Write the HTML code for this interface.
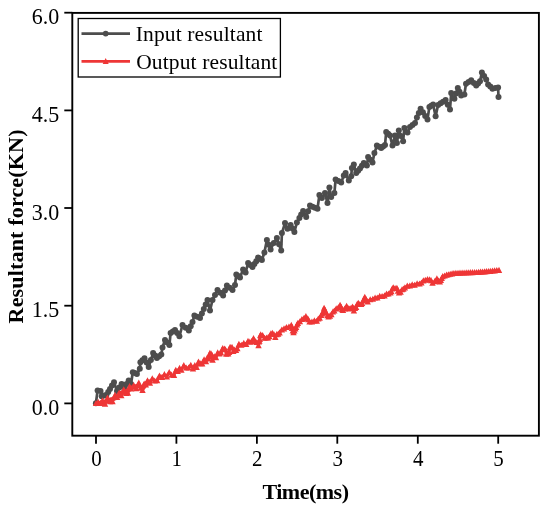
<!DOCTYPE html>
<html><head><meta charset="utf-8"><title>Resultant force</title>
<style>html,body{margin:0;padding:0;background:#fff}body{width:550px;height:512px;position:relative;overflow:hidden}</style>
</head><body>
<svg width="550" height="512" viewBox="0 0 550 512" style="position:absolute;left:0;top:0">
<polyline points="95.9,403.3 97.6,390.4 100.5,391.0 101.7,396.3 106.4,395.0 110.0,389.0 114.0,382.2 117.0,391.0 121.6,384.0 124.5,387.5 128.7,380.5 131.0,384.0 132.8,372.3 136.9,374.0 139.8,368.8 140.4,362.3 144.5,358.2 148.7,366.9 153.1,353.1 156.9,358.1 161.3,354.4 162.5,347.5 165.0,340.0 169.4,345.0 170.6,333.1 175.0,330.0 179.4,336.3 182.5,325.0 188.8,330.6 192.5,321.9 194.4,315.6 200.0,318.0 203.8,309.0 207.5,300.0 210.0,310.6 212.5,300.0 217.5,290.0 223.1,295.6 226.9,285.6 232.5,290.0 235.0,285.0 236.3,274.4 240.0,277.5 243.1,269.4 245.6,272.5 248.1,263.1 252.5,266.9 256.3,261.3 258.1,257.5 261.9,260.0 264.4,252.5 266.9,240.0 270.6,249.4 273.8,243.0 276.9,238.1 281.2,250.6 281.9,233.1 285.0,223.1 287.5,228.8 290.6,225.0 294.4,231.9 296.9,222.5 299.4,218.1 303.1,211.0 306.2,216.9 310.0,205.6 317.5,208.8 319.4,195.0 321.9,198.1 325.0,193.1 327.5,203.1 329.4,187.5 331.2,196.9 334.4,193.1 335.6,179.4 341.2,182.5 343.8,175.6 345.6,173.1 348.8,180.6 351.2,176.2 351.9,168.1 353.8,164.4 356.2,173.1 360.0,168.4 363.8,163.1 366.9,165.6 368.1,156.9 372.5,162.5 374.4,153.1 376.9,145.6 381.2,148.1 385.0,145.0 386.2,131.9 390.0,135.6 392.5,145.6 395.0,135.6 396.9,143.1 398.8,130.6 403.1,141.2 404.4,128.1 407.5,132.5 410.0,126.9 415.0,123.1 416.9,117.5 420.6,108.8 427.5,119.4 429.4,106.9 433.1,104.4 435.6,116.2 438.1,105.0 445.6,100.0 450.0,109.4 451.2,93.1 454.4,98.8 457.8,88.1 461.2,95.6 464.4,94.4 466.0,83.8 471.2,80.3 476.2,85.6 480.0,81.2 481.9,72.5 486.2,79.4 488.1,84.4 492.5,88.8 498.1,87.5 498.5,96.9" fill="none" stroke="#4d4d4d" stroke-width="2.7" stroke-linejoin="round"/>
<g fill="#4d4d4d">
<circle cx="95.9" cy="403.3" r="3"/>
<circle cx="97.6" cy="390.4" r="3"/>
<circle cx="100.5" cy="391.0" r="3"/>
<circle cx="101.7" cy="396.3" r="3"/>
<circle cx="104.1" cy="395.6" r="3"/>
<circle cx="106.4" cy="395.0" r="3"/>
<circle cx="108.2" cy="392.0" r="3"/>
<circle cx="110.0" cy="389.0" r="3"/>
<circle cx="112.0" cy="385.6" r="3"/>
<circle cx="114.0" cy="382.2" r="3"/>
<circle cx="117.0" cy="391.0" r="3"/>
<circle cx="119.3" cy="387.5" r="3"/>
<circle cx="121.6" cy="384.0" r="3"/>
<circle cx="124.5" cy="387.5" r="3"/>
<circle cx="126.6" cy="384.0" r="3"/>
<circle cx="128.7" cy="380.5" r="3"/>
<circle cx="131.0" cy="384.0" r="3"/>
<circle cx="132.8" cy="372.3" r="3"/>
<circle cx="134.9" cy="373.1" r="3"/>
<circle cx="136.9" cy="374.0" r="3"/>
<circle cx="139.8" cy="368.8" r="3"/>
<circle cx="140.4" cy="362.3" r="3"/>
<circle cx="142.4" cy="360.2" r="3"/>
<circle cx="144.5" cy="358.2" r="3"/>
<circle cx="146.6" cy="362.5" r="3"/>
<circle cx="148.7" cy="366.9" r="3"/>
<circle cx="150.9" cy="360.0" r="3"/>
<circle cx="153.1" cy="353.1" r="3"/>
<circle cx="155.0" cy="355.6" r="3"/>
<circle cx="156.9" cy="358.1" r="3"/>
<circle cx="159.1" cy="356.2" r="3"/>
<circle cx="161.3" cy="354.4" r="3"/>
<circle cx="162.5" cy="347.5" r="3"/>
<circle cx="165.0" cy="340.0" r="3"/>
<circle cx="167.2" cy="342.5" r="3"/>
<circle cx="169.4" cy="345.0" r="3"/>
<circle cx="170.6" cy="333.1" r="3"/>
<circle cx="172.8" cy="331.6" r="3"/>
<circle cx="175.0" cy="330.0" r="3"/>
<circle cx="177.2" cy="333.1" r="3"/>
<circle cx="179.4" cy="336.3" r="3"/>
<circle cx="182.5" cy="325.0" r="3"/>
<circle cx="185.7" cy="327.8" r="3"/>
<circle cx="188.8" cy="330.6" r="3"/>
<circle cx="190.7" cy="326.2" r="3"/>
<circle cx="192.5" cy="321.9" r="3"/>
<circle cx="194.4" cy="315.6" r="3"/>
<circle cx="197.2" cy="316.8" r="3"/>
<circle cx="200.0" cy="318.0" r="3"/>
<circle cx="201.9" cy="313.5" r="3"/>
<circle cx="203.8" cy="309.0" r="3"/>
<circle cx="205.7" cy="304.5" r="3"/>
<circle cx="207.5" cy="300.0" r="3"/>
<circle cx="210.0" cy="310.6" r="3"/>
<circle cx="212.5" cy="300.0" r="3"/>
<circle cx="215.0" cy="295.0" r="3"/>
<circle cx="217.5" cy="290.0" r="3"/>
<circle cx="220.3" cy="292.8" r="3"/>
<circle cx="223.1" cy="295.6" r="3"/>
<circle cx="225.0" cy="290.6" r="3"/>
<circle cx="226.9" cy="285.6" r="3"/>
<circle cx="229.7" cy="287.8" r="3"/>
<circle cx="232.5" cy="290.0" r="3"/>
<circle cx="235.0" cy="285.0" r="3"/>
<circle cx="236.3" cy="274.4" r="3"/>
<circle cx="238.2" cy="275.9" r="3"/>
<circle cx="240.0" cy="277.5" r="3"/>
<circle cx="243.1" cy="269.4" r="3"/>
<circle cx="245.6" cy="272.5" r="3"/>
<circle cx="248.1" cy="263.1" r="3"/>
<circle cx="250.3" cy="265.0" r="3"/>
<circle cx="252.5" cy="266.9" r="3"/>
<circle cx="254.4" cy="264.1" r="3"/>
<circle cx="256.3" cy="261.3" r="3"/>
<circle cx="258.1" cy="257.5" r="3"/>
<circle cx="260.0" cy="258.8" r="3"/>
<circle cx="261.9" cy="260.0" r="3"/>
<circle cx="264.4" cy="252.5" r="3"/>
<circle cx="266.9" cy="240.0" r="3"/>
<circle cx="268.8" cy="244.7" r="3"/>
<circle cx="270.6" cy="249.4" r="3"/>
<circle cx="273.8" cy="243.0" r="3"/>
<circle cx="276.9" cy="238.1" r="3"/>
<circle cx="279.1" cy="244.3" r="3"/>
<circle cx="281.2" cy="250.6" r="3"/>
<circle cx="281.9" cy="233.1" r="3"/>
<circle cx="285.0" cy="223.1" r="3"/>
<circle cx="287.5" cy="228.8" r="3"/>
<circle cx="290.6" cy="225.0" r="3"/>
<circle cx="292.5" cy="228.4" r="3"/>
<circle cx="294.4" cy="231.9" r="3"/>
<circle cx="296.9" cy="222.5" r="3"/>
<circle cx="299.4" cy="218.1" r="3"/>
<circle cx="301.2" cy="214.6" r="3"/>
<circle cx="303.1" cy="211.0" r="3"/>
<circle cx="306.2" cy="216.9" r="3"/>
<circle cx="308.1" cy="211.2" r="3"/>
<circle cx="310.0" cy="205.6" r="3"/>
<circle cx="312.5" cy="206.7" r="3"/>
<circle cx="315.0" cy="207.7" r="3"/>
<circle cx="317.5" cy="208.8" r="3"/>
<circle cx="319.4" cy="195.0" r="3"/>
<circle cx="321.9" cy="198.1" r="3"/>
<circle cx="325.0" cy="193.1" r="3"/>
<circle cx="327.5" cy="203.1" r="3"/>
<circle cx="329.4" cy="187.5" r="3"/>
<circle cx="331.2" cy="196.9" r="3"/>
<circle cx="334.4" cy="193.1" r="3"/>
<circle cx="335.6" cy="179.4" r="3"/>
<circle cx="338.4" cy="180.9" r="3"/>
<circle cx="341.2" cy="182.5" r="3"/>
<circle cx="343.8" cy="175.6" r="3"/>
<circle cx="345.6" cy="173.1" r="3"/>
<circle cx="348.8" cy="180.6" r="3"/>
<circle cx="351.2" cy="176.2" r="3"/>
<circle cx="351.9" cy="168.1" r="3"/>
<circle cx="353.8" cy="164.4" r="3"/>
<circle cx="356.2" cy="173.1" r="3"/>
<circle cx="358.1" cy="170.8" r="3"/>
<circle cx="360.0" cy="168.4" r="3"/>
<circle cx="361.9" cy="165.8" r="3"/>
<circle cx="363.8" cy="163.1" r="3"/>
<circle cx="366.9" cy="165.6" r="3"/>
<circle cx="368.1" cy="156.9" r="3"/>
<circle cx="370.3" cy="159.7" r="3"/>
<circle cx="372.5" cy="162.5" r="3"/>
<circle cx="374.4" cy="153.1" r="3"/>
<circle cx="376.9" cy="145.6" r="3"/>
<circle cx="379.1" cy="146.8" r="3"/>
<circle cx="381.2" cy="148.1" r="3"/>
<circle cx="383.1" cy="146.6" r="3"/>
<circle cx="385.0" cy="145.0" r="3"/>
<circle cx="386.2" cy="131.9" r="3"/>
<circle cx="388.1" cy="133.8" r="3"/>
<circle cx="390.0" cy="135.6" r="3"/>
<circle cx="392.5" cy="145.6" r="3"/>
<circle cx="395.0" cy="135.6" r="3"/>
<circle cx="396.9" cy="143.1" r="3"/>
<circle cx="398.8" cy="130.6" r="3"/>
<circle cx="400.9" cy="135.9" r="3"/>
<circle cx="403.1" cy="141.2" r="3"/>
<circle cx="404.4" cy="128.1" r="3"/>
<circle cx="407.5" cy="132.5" r="3"/>
<circle cx="410.0" cy="126.9" r="3"/>
<circle cx="412.5" cy="125.0" r="3"/>
<circle cx="415.0" cy="123.1" r="3"/>
<circle cx="416.9" cy="117.5" r="3"/>
<circle cx="418.8" cy="113.1" r="3"/>
<circle cx="420.6" cy="108.8" r="3"/>
<circle cx="422.9" cy="112.3" r="3"/>
<circle cx="425.2" cy="115.9" r="3"/>
<circle cx="427.5" cy="119.4" r="3"/>
<circle cx="429.4" cy="106.9" r="3"/>
<circle cx="431.2" cy="105.7" r="3"/>
<circle cx="433.1" cy="104.4" r="3"/>
<circle cx="435.6" cy="116.2" r="3"/>
<circle cx="438.1" cy="105.0" r="3"/>
<circle cx="440.6" cy="103.3" r="3"/>
<circle cx="443.1" cy="101.7" r="3"/>
<circle cx="445.6" cy="100.0" r="3"/>
<circle cx="447.8" cy="104.7" r="3"/>
<circle cx="450.0" cy="109.4" r="3"/>
<circle cx="451.2" cy="93.1" r="3"/>
<circle cx="454.4" cy="98.8" r="3"/>
<circle cx="456.1" cy="93.4" r="3"/>
<circle cx="457.8" cy="88.1" r="3"/>
<circle cx="459.5" cy="91.8" r="3"/>
<circle cx="461.2" cy="95.6" r="3"/>
<circle cx="464.4" cy="94.4" r="3"/>
<circle cx="466.0" cy="83.8" r="3"/>
<circle cx="468.6" cy="82.0" r="3"/>
<circle cx="471.2" cy="80.3" r="3"/>
<circle cx="473.8" cy="82.9" r="3"/>
<circle cx="476.2" cy="85.6" r="3"/>
<circle cx="478.1" cy="83.4" r="3"/>
<circle cx="480.0" cy="81.2" r="3"/>
<circle cx="481.9" cy="72.5" r="3"/>
<circle cx="484.1" cy="76.0" r="3"/>
<circle cx="486.2" cy="79.4" r="3"/>
<circle cx="488.1" cy="84.4" r="3"/>
<circle cx="490.3" cy="86.6" r="3"/>
<circle cx="492.5" cy="88.8" r="3"/>
<circle cx="495.3" cy="88.1" r="3"/>
<circle cx="498.1" cy="87.5" r="3"/>
<circle cx="498.5" cy="96.9" r="3"/>
</g>
<polyline points="100.3,403.1 102.5,402.5 105.0,401.7 107.5,400.8 110.0,400.0 112.5,399.1 115.0,398.1 117.1,396.5 119.2,394.8 121.2,393.1 123.8,392.5 126.2,391.9 127.9,390.6 129.6,389.4 131.2,388.1 133.8,387.3 136.2,386.5 138.8,385.6 140.6,387.0 142.5,388.4 144.2,386.4 145.8,384.4 147.5,382.4 149.9,381.6" fill="none" stroke="#ee3636" stroke-width="4.6" stroke-linejoin="round" stroke-linecap="round"/>
<polyline points="96.0,403.4 98.2,402.2 100.3,403.2 102.5,400.6 105.0,404.1 107.5,397.9 110.0,401.5 112.5,401.5 115.0,395.2 117.1,397.2 119.2,392.8 121.2,395.6 123.8,389.6 126.2,393.4 127.9,393.1 129.6,386.5 131.2,388.8 133.8,385.4 136.2,388.6 138.8,383.0 140.6,388.1 142.5,390.2 144.2,383.9 145.8,384.7 147.5,380.7 149.9,383.1 152.3,378.6 154.7,380.8 157.1,380.5 159.5,375.8 161.9,377.4 164.4,374.5 166.8,376.7 169.2,372.4 171.6,375.0 174.0,375.2 175.8,370.1 177.7,371.4 179.6,368.2 181.4,370.1 183.8,365.5 186.2,367.9 188.6,367.9 190.8,365.2 193.0,368.8 194.8,365.5 196.7,367.2 198.5,361.9 200.3,363.6 202.2,363.7 204.1,359.6 206.0,361.6 207.3,357.8 208.6,358.7 209.9,353.2 211.2,354.0 211.7,356.8 212.1,355.5 212.6,360.0 214.3,356.6 216.0,357.6 217.7,352.7 219.4,353.8 221.1,352.9 222.7,348.3 224.4,348.9 225.4,349.6 226.3,354.1 227.3,353.4 228.2,353.8 229.1,352.2 230.0,347.4 230.9,347.3 232.1,347.5 233.3,351.2 234.5,350.0 236.0,350.2 237.4,348.6 238.9,344.2 241.3,345.1 243.8,343.2 246.2,344.3 248.0,341.2 249.8,342.0 251.7,341.5 253.5,338.5 255.2,341.6 256.8,342.3 258.5,345.5 258.9,341.7 259.4,341.1 259.8,339.4 260.3,335.6 260.7,334.7 262.6,335.3 264.6,338.1 266.5,337.9 268.0,337.7 269.4,336.5 270.9,333.6 272.4,333.1 273.9,334.3 275.3,337.2 276.7,334.5 278.2,334.0 279.6,332.7 281.8,329.8 284.0,328.7 286.4,327.3 288.9,326.9 291.3,325.2 292.0,328.2 292.8,330.7 293.5,332.5 294.4,330.9 295.3,328.7 296.1,327.2 297.0,324.7 297.9,323.2 299.9,321.6 301.9,319.4 303.9,318.4 305.9,316.3 307.1,318.8 308.3,319.5 309.5,321.9 311.9,321.9 314.4,320.7 316.8,321.1 318.3,318.9 319.7,318.0 321.2,315.3 322.2,313.8 323.1,311.5 324.1,308.1 325.2,311.0 326.3,312.7 327.4,315.6 328.5,316.8 329.9,316.0 331.4,314.5 332.9,311.9 334.3,310.9 336.2,308.7 338.2,307.8 340.1,305.1 341.1,307.6 342.0,309.5 343.0,310.2 344.8,308.8 346.6,306.1 348.1,308.4 349.5,308.8 351.0,308.2 352.5,306.9 353.2,308.1 353.9,310.9 355.0,308.4 356.1,307.2 357.2,304.2 358.3,303.1 359.8,304.3 361.2,304.4 362.1,303.3 363.0,300.9 363.9,299.9 364.8,297.1 366.2,299.8 367.7,301.8 370.2,299.6 372.8,299.1 375.1,297.9 377.3,297.9 379.7,296.2 382.1,296.3 384.5,295.7 386.5,294.0 388.4,293.9 390.4,292.7 391.4,291.6 392.3,288.7 393.3,287.6 395.1,288.4 396.9,288.1 398.0,291.0 399.1,292.7 400.6,292.1 402.0,289.6 403.4,289.0 404.9,287.7 407.3,286.0 409.8,285.9 412.2,284.7 414.6,285.1 417.1,283.6 419.5,283.9 421.4,282.9 423.4,280.7 425.3,280.1 427.5,279.3 429.6,279.7 431.1,280.5 432.5,283.1 434.7,281.5 436.9,278.7 438.4,280.9 439.8,281.8 440.8,280.2 441.7,278.3 442.7,276.5 444.6,275.8 446.6,275.0 448.4,274.6 450.2,274.1 452.1,273.7 453.9,273.3 455.9,273.2 458.0,273.1 460.0,273.0 462.1,272.9 464.1,272.8 466.2,272.7 468.2,272.6 470.3,272.5 472.4,272.5 474.5,272.4 476.5,272.3 478.6,272.2 480.6,272.0 482.5,271.9 484.5,271.7 486.4,271.5 488.4,271.4 490.3,271.2 492.5,270.9 494.6,270.7 496.8,270.4 499.0,270.2" fill="none" stroke="#ee3636" stroke-width="3" stroke-linejoin="round"/>
<g fill="#ee3636">
<path d="M92.8 406.1L99.2 406.1L96.0 400.0Z"/>
<path d="M95.0 404.9L101.4 404.9L98.2 398.8Z"/>
<path d="M97.1 405.9L103.5 405.9L100.3 399.8Z"/>
<path d="M99.3 403.3L105.7 403.3L102.5 397.2Z"/>
<path d="M101.8 406.8L108.2 406.8L105.0 400.7Z"/>
<path d="M104.3 400.6L110.7 400.6L107.5 394.5Z"/>
<path d="M106.8 404.2L113.2 404.2L110.0 398.1Z"/>
<path d="M109.3 404.2L115.7 404.2L112.5 398.1Z"/>
<path d="M111.8 397.9L118.2 397.9L115.0 391.8Z"/>
<path d="M113.9 399.9L120.3 399.9L117.1 393.8Z"/>
<path d="M116.0 395.5L122.4 395.5L119.2 389.4Z"/>
<path d="M118.0 398.3L124.5 398.3L121.2 392.2Z"/>
<path d="M120.5 392.3L127.0 392.3L123.8 386.2Z"/>
<path d="M123.0 396.1L129.4 396.1L126.2 390.0Z"/>
<path d="M124.7 395.8L131.1 395.8L127.9 389.7Z"/>
<path d="M126.4 389.2L132.8 389.2L129.6 383.1Z"/>
<path d="M128.1 391.5L134.4 391.5L131.2 385.4Z"/>
<path d="M130.6 388.1L136.9 388.1L133.8 382.0Z"/>
<path d="M133.1 391.3L139.4 391.3L136.2 385.2Z"/>
<path d="M135.6 385.7L141.9 385.7L138.8 379.6Z"/>
<path d="M137.4 390.8L143.8 390.8L140.6 384.7Z"/>
<path d="M139.3 392.9L145.7 392.9L142.5 386.8Z"/>
<path d="M141.0 386.6L147.4 386.6L144.2 380.5Z"/>
<path d="M142.6 387.4L149.0 387.4L145.8 381.3Z"/>
<path d="M144.3 383.4L150.7 383.4L147.5 377.3Z"/>
<path d="M146.7 385.8L153.1 385.8L149.9 379.7Z"/>
<path d="M149.1 381.3L155.5 381.3L152.3 375.2Z"/>
<path d="M151.5 383.5L157.9 383.5L154.7 377.4Z"/>
<path d="M153.9 383.2L160.3 383.2L157.1 377.1Z"/>
<path d="M156.3 378.5L162.7 378.5L159.5 372.4Z"/>
<path d="M158.7 380.1L165.1 380.1L161.9 374.0Z"/>
<path d="M161.2 377.2L167.6 377.2L164.4 371.1Z"/>
<path d="M163.6 379.4L170.0 379.4L166.8 373.3Z"/>
<path d="M166.0 375.1L172.4 375.1L169.2 369.0Z"/>
<path d="M168.4 377.7L174.8 377.7L171.6 371.6Z"/>
<path d="M170.8 377.9L177.2 377.9L174.0 371.8Z"/>
<path d="M172.7 372.8L179.0 372.8L175.8 366.7Z"/>
<path d="M174.5 374.1L180.9 374.1L177.7 368.0Z"/>
<path d="M176.4 370.9L182.8 370.9L179.6 364.8Z"/>
<path d="M178.2 372.8L184.6 372.8L181.4 366.7Z"/>
<path d="M180.6 368.2L187.0 368.2L183.8 362.1Z"/>
<path d="M183.0 370.6L189.4 370.6L186.2 364.5Z"/>
<path d="M185.4 370.6L191.8 370.6L188.6 364.5Z"/>
<path d="M187.6 367.9L194.0 367.9L190.8 361.8Z"/>
<path d="M189.8 371.5L196.2 371.5L193.0 365.4Z"/>
<path d="M191.6 368.2L198.0 368.2L194.8 362.1Z"/>
<path d="M193.5 369.9L199.8 369.9L196.7 363.8Z"/>
<path d="M195.3 364.6L201.7 364.6L198.5 358.5Z"/>
<path d="M197.1 366.3L203.5 366.3L200.3 360.2Z"/>
<path d="M199.0 366.4L205.4 366.4L202.2 360.3Z"/>
<path d="M200.9 362.3L207.3 362.3L204.1 356.2Z"/>
<path d="M202.8 364.3L209.2 364.3L206.0 358.2Z"/>
<path d="M204.1 360.5L210.5 360.5L207.3 354.4Z"/>
<path d="M205.4 361.4L211.8 361.4L208.6 355.3Z"/>
<path d="M206.7 355.9L213.1 355.9L209.9 349.8Z"/>
<path d="M208.0 356.7L214.4 356.7L211.2 350.6Z"/>
<path d="M208.5 359.5L214.9 359.5L211.7 353.4Z"/>
<path d="M208.9 358.2L215.3 358.2L212.1 352.1Z"/>
<path d="M209.4 362.7L215.8 362.7L212.6 356.6Z"/>
<path d="M211.1 359.3L217.5 359.3L214.3 353.2Z"/>
<path d="M212.8 360.3L219.2 360.3L216.0 354.2Z"/>
<path d="M214.5 355.4L220.9 355.4L217.7 349.3Z"/>
<path d="M216.2 356.5L222.6 356.5L219.4 350.4Z"/>
<path d="M217.9 355.6L224.2 355.6L221.1 349.5Z"/>
<path d="M219.5 351.0L225.9 351.0L222.7 344.9Z"/>
<path d="M221.2 351.6L227.6 351.6L224.4 345.5Z"/>
<path d="M222.2 352.3L228.6 352.3L225.4 346.2Z"/>
<path d="M223.1 356.8L229.5 356.8L226.3 350.7Z"/>
<path d="M224.1 356.1L230.5 356.1L227.3 350.0Z"/>
<path d="M225.0 356.5L231.4 356.5L228.2 350.4Z"/>
<path d="M225.9 354.9L232.3 354.9L229.1 348.8Z"/>
<path d="M226.8 350.1L233.2 350.1L230.0 344.0Z"/>
<path d="M227.7 350.0L234.1 350.0L230.9 343.9Z"/>
<path d="M228.9 350.2L235.3 350.2L232.1 344.1Z"/>
<path d="M230.1 353.9L236.5 353.9L233.3 347.8Z"/>
<path d="M231.3 352.7L237.7 352.7L234.5 346.6Z"/>
<path d="M232.8 352.9L239.2 352.9L236.0 346.8Z"/>
<path d="M234.2 351.3L240.6 351.3L237.4 345.2Z"/>
<path d="M235.7 346.9L242.1 346.9L238.9 340.8Z"/>
<path d="M238.1 347.8L244.5 347.8L241.3 341.7Z"/>
<path d="M240.6 345.9L247.0 345.9L243.8 339.8Z"/>
<path d="M243.0 347.0L249.4 347.0L246.2 340.9Z"/>
<path d="M244.8 343.9L251.2 343.9L248.0 337.8Z"/>
<path d="M246.7 344.7L253.0 344.7L249.8 338.6Z"/>
<path d="M248.5 344.2L254.9 344.2L251.7 338.1Z"/>
<path d="M250.3 341.2L256.7 341.2L253.5 335.1Z"/>
<path d="M252.0 344.3L258.4 344.3L255.2 338.2Z"/>
<path d="M253.6 345.0L260.0 345.0L256.8 338.9Z"/>
<path d="M255.3 348.2L261.7 348.2L258.5 342.1Z"/>
<path d="M255.7 344.4L262.1 344.4L258.9 338.3Z"/>
<path d="M256.2 343.8L262.6 343.8L259.4 337.7Z"/>
<path d="M256.6 342.1L263.0 342.1L259.8 336.0Z"/>
<path d="M257.1 338.3L263.5 338.3L260.3 332.2Z"/>
<path d="M257.5 337.4L263.9 337.4L260.7 331.3Z"/>
<path d="M259.4 338.0L265.8 338.0L262.6 331.9Z"/>
<path d="M261.4 340.8L267.8 340.8L264.6 334.7Z"/>
<path d="M263.3 340.6L269.7 340.6L266.5 334.5Z"/>
<path d="M264.8 340.4L271.2 340.4L268.0 334.3Z"/>
<path d="M266.2 339.2L272.6 339.2L269.4 333.1Z"/>
<path d="M267.7 336.3L274.1 336.3L270.9 330.2Z"/>
<path d="M269.2 335.8L275.6 335.8L272.4 329.7Z"/>
<path d="M270.7 337.0L277.1 337.0L273.9 330.9Z"/>
<path d="M272.1 339.9L278.5 339.9L275.3 333.8Z"/>
<path d="M273.5 337.2L279.9 337.2L276.7 331.1Z"/>
<path d="M275.0 336.7L281.4 336.7L278.2 330.6Z"/>
<path d="M276.4 335.4L282.8 335.4L279.6 329.3Z"/>
<path d="M278.6 332.5L285.0 332.5L281.8 326.4Z"/>
<path d="M280.8 331.4L287.2 331.4L284.0 325.3Z"/>
<path d="M283.2 330.0L289.6 330.0L286.4 323.9Z"/>
<path d="M285.7 329.6L292.1 329.6L288.9 323.5Z"/>
<path d="M288.1 327.9L294.5 327.9L291.3 321.8Z"/>
<path d="M288.8 330.9L295.2 330.9L292.0 324.8Z"/>
<path d="M289.6 333.4L296.0 333.4L292.8 327.3Z"/>
<path d="M290.3 335.2L296.7 335.2L293.5 329.1Z"/>
<path d="M291.2 333.6L297.6 333.6L294.4 327.5Z"/>
<path d="M292.1 331.4L298.5 331.4L295.3 325.3Z"/>
<path d="M292.9 329.9L299.3 329.9L296.1 323.8Z"/>
<path d="M293.8 327.4L300.2 327.4L297.0 321.3Z"/>
<path d="M294.7 325.9L301.1 325.9L297.9 319.8Z"/>
<path d="M296.7 324.3L303.1 324.3L299.9 318.2Z"/>
<path d="M298.7 322.1L305.1 322.1L301.9 316.0Z"/>
<path d="M300.7 321.1L307.1 321.1L303.9 315.0Z"/>
<path d="M302.7 319.0L309.1 319.0L305.9 312.9Z"/>
<path d="M303.9 321.5L310.3 321.5L307.1 315.4Z"/>
<path d="M305.1 322.2L311.5 322.2L308.3 316.1Z"/>
<path d="M306.3 324.6L312.7 324.6L309.5 318.6Z"/>
<path d="M308.7 324.6L315.1 324.6L311.9 318.5Z"/>
<path d="M311.2 323.4L317.6 323.4L314.4 317.3Z"/>
<path d="M313.6 323.8L320.0 323.8L316.8 317.7Z"/>
<path d="M315.1 321.6L321.5 321.6L318.3 315.5Z"/>
<path d="M316.5 320.7L322.9 320.7L319.7 314.6Z"/>
<path d="M318.0 318.0L324.4 318.0L321.2 311.9Z"/>
<path d="M319.0 316.4L325.4 316.4L322.2 310.4Z"/>
<path d="M319.9 314.2L326.3 314.2L323.1 308.1Z"/>
<path d="M320.9 310.8L327.3 310.8L324.1 304.7Z"/>
<path d="M322.0 313.7L328.4 313.7L325.2 307.6Z"/>
<path d="M323.1 315.4L329.5 315.4L326.3 309.3Z"/>
<path d="M324.2 318.3L330.6 318.3L327.4 312.2Z"/>
<path d="M325.3 319.5L331.7 319.5L328.5 313.4Z"/>
<path d="M326.8 318.7L333.1 318.7L329.9 312.6Z"/>
<path d="M328.2 317.2L334.6 317.2L331.4 311.1Z"/>
<path d="M329.7 314.6L336.1 314.6L332.9 308.5Z"/>
<path d="M331.1 313.6L337.5 313.6L334.3 307.5Z"/>
<path d="M333.0 311.4L339.4 311.4L336.2 305.3Z"/>
<path d="M335.0 310.5L341.4 310.5L338.2 304.4Z"/>
<path d="M336.9 307.8L343.3 307.8L340.1 301.7Z"/>
<path d="M337.9 310.3L344.3 310.3L341.1 304.2Z"/>
<path d="M338.8 312.2L345.2 312.2L342.0 306.1Z"/>
<path d="M339.8 312.9L346.2 312.9L343.0 306.8Z"/>
<path d="M341.6 311.5L348.0 311.5L344.8 305.4Z"/>
<path d="M343.4 308.8L349.8 308.8L346.6 302.7Z"/>
<path d="M344.9 311.1L351.2 311.1L348.1 305.0Z"/>
<path d="M346.3 311.5L352.7 311.5L349.5 305.4Z"/>
<path d="M347.8 310.9L354.2 310.9L351.0 304.8Z"/>
<path d="M349.3 309.6L355.7 309.6L352.5 303.5Z"/>
<path d="M350.0 310.8L356.4 310.8L353.2 304.7Z"/>
<path d="M350.7 313.6L357.1 313.6L353.9 307.5Z"/>
<path d="M351.8 311.1L358.2 311.1L355.0 305.0Z"/>
<path d="M352.9 309.9L359.3 309.9L356.1 303.8Z"/>
<path d="M354.0 306.9L360.4 306.9L357.2 300.8Z"/>
<path d="M355.1 305.8L361.5 305.8L358.3 299.7Z"/>
<path d="M356.6 307.0L362.9 307.0L359.8 300.9Z"/>
<path d="M358.0 307.1L364.4 307.1L361.2 301.0Z"/>
<path d="M358.9 306.0L365.3 306.0L362.1 299.9Z"/>
<path d="M359.8 303.6L366.2 303.6L363.0 297.6Z"/>
<path d="M360.7 302.6L367.1 302.6L363.9 296.5Z"/>
<path d="M361.6 299.8L368.0 299.8L364.8 293.7Z"/>
<path d="M363.1 302.5L369.4 302.5L366.2 296.4Z"/>
<path d="M364.5 304.5L370.9 304.5L367.7 298.4Z"/>
<path d="M367.1 302.3L373.4 302.3L370.2 296.2Z"/>
<path d="M369.6 301.8L376.0 301.8L372.8 295.7Z"/>
<path d="M371.9 300.6L378.2 300.6L375.1 294.5Z"/>
<path d="M374.1 300.6L380.5 300.6L377.3 294.5Z"/>
<path d="M376.5 298.9L382.9 298.9L379.7 292.8Z"/>
<path d="M378.9 299.0L385.3 299.0L382.1 292.9Z"/>
<path d="M381.3 298.4L387.7 298.4L384.5 292.3Z"/>
<path d="M383.3 296.7L389.7 296.7L386.5 290.6Z"/>
<path d="M385.2 296.6L391.6 296.6L388.4 290.5Z"/>
<path d="M387.2 295.4L393.6 295.4L390.4 289.3Z"/>
<path d="M388.2 294.3L394.6 294.3L391.4 288.2Z"/>
<path d="M389.1 291.4L395.5 291.4L392.3 285.3Z"/>
<path d="M390.1 290.2L396.5 290.2L393.3 284.2Z"/>
<path d="M391.9 291.1L398.3 291.1L395.1 285.0Z"/>
<path d="M393.7 290.8L400.1 290.8L396.9 284.7Z"/>
<path d="M394.8 293.7L401.2 293.7L398.0 287.6Z"/>
<path d="M395.9 295.4L402.3 295.4L399.1 289.3Z"/>
<path d="M397.4 294.8L403.8 294.8L400.6 288.7Z"/>
<path d="M398.8 292.3L405.2 292.3L402.0 286.2Z"/>
<path d="M400.2 291.7L406.6 291.7L403.4 285.6Z"/>
<path d="M401.7 290.4L408.1 290.4L404.9 284.3Z"/>
<path d="M404.1 288.7L410.5 288.7L407.3 282.6Z"/>
<path d="M406.6 288.6L413.0 288.6L409.8 282.5Z"/>
<path d="M409.0 287.4L415.4 287.4L412.2 281.3Z"/>
<path d="M411.4 287.8L417.8 287.8L414.6 281.7Z"/>
<path d="M413.9 286.3L420.3 286.3L417.1 280.2Z"/>
<path d="M416.3 286.6L422.7 286.6L419.5 280.6Z"/>
<path d="M418.2 285.6L424.6 285.6L421.4 279.5Z"/>
<path d="M420.2 283.4L426.6 283.4L423.4 277.3Z"/>
<path d="M422.1 282.8L428.5 282.8L425.3 276.7Z"/>
<path d="M424.3 282.0L430.7 282.0L427.5 275.9Z"/>
<path d="M426.4 282.4L432.8 282.4L429.6 276.3Z"/>
<path d="M427.9 283.2L434.2 283.2L431.1 277.1Z"/>
<path d="M429.3 285.8L435.7 285.8L432.5 279.8Z"/>
<path d="M431.5 284.2L437.9 284.2L434.7 278.1Z"/>
<path d="M433.7 281.4L440.1 281.4L436.9 275.3Z"/>
<path d="M435.2 283.6L441.6 283.6L438.4 277.5Z"/>
<path d="M436.6 284.5L443.0 284.5L439.8 278.4Z"/>
<path d="M437.6 282.9L444.0 282.9L440.8 276.8Z"/>
<path d="M438.5 281.0L444.9 281.0L441.7 274.9Z"/>
<path d="M439.5 279.2L445.9 279.2L442.7 273.1Z"/>
<path d="M441.4 278.4L447.8 278.4L444.6 272.4Z"/>
<path d="M443.4 277.7L449.8 277.7L446.6 271.6Z"/>
<path d="M445.2 277.3L451.6 277.3L448.4 271.2Z"/>
<path d="M447.1 276.8L453.4 276.8L450.2 270.8Z"/>
<path d="M448.9 276.4L455.3 276.4L452.1 270.3Z"/>
<path d="M450.7 276.0L457.1 276.0L453.9 269.9Z"/>
<path d="M452.7 275.9L459.1 275.9L455.9 269.8Z"/>
<path d="M454.8 275.8L461.2 275.8L458.0 269.7Z"/>
<path d="M456.8 275.7L463.2 275.7L460.0 269.6Z"/>
<path d="M458.9 275.6L465.3 275.6L462.1 269.5Z"/>
<path d="M460.9 275.5L467.3 275.5L464.1 269.4Z"/>
<path d="M463.0 275.4L469.4 275.4L466.2 269.3Z"/>
<path d="M465.0 275.3L471.4 275.3L468.2 269.2Z"/>
<path d="M467.1 275.2L473.5 275.2L470.3 269.1Z"/>
<path d="M469.2 275.2L475.6 275.2L472.4 269.1Z"/>
<path d="M471.3 275.1L477.7 275.1L474.5 269.0Z"/>
<path d="M473.3 275.0L479.7 275.0L476.5 268.9Z"/>
<path d="M475.4 274.9L481.8 274.9L478.6 268.8Z"/>
<path d="M477.4 274.7L483.8 274.7L480.6 268.6Z"/>
<path d="M479.3 274.6L485.7 274.6L482.5 268.5Z"/>
<path d="M481.3 274.4L487.7 274.4L484.5 268.3Z"/>
<path d="M483.2 274.2L489.6 274.2L486.4 268.1Z"/>
<path d="M485.2 274.1L491.6 274.1L488.4 268.0Z"/>
<path d="M487.1 273.9L493.5 273.9L490.3 267.8Z"/>
<path d="M489.3 273.6L495.7 273.6L492.5 267.6Z"/>
<path d="M491.4 273.4L497.8 273.4L494.6 267.3Z"/>
<path d="M493.6 273.1L500.0 273.1L496.8 267.1Z"/>
<path d="M495.8 272.9L502.2 272.9L499.0 266.8Z"/>
</g>
<rect x="72.3" y="12.9" width="466.59999999999997" height="422.8" fill="none" stroke="#000" stroke-width="1.9"/>
<g stroke="#000" stroke-width="1.8">
<line x1="96.0" y1="435.7" x2="96.0" y2="443.7"/>
<line x1="176.4" y1="435.7" x2="176.4" y2="443.7"/>
<line x1="256.9" y1="435.7" x2="256.9" y2="443.7"/>
<line x1="337.3" y1="435.7" x2="337.3" y2="443.7"/>
<line x1="417.8" y1="435.7" x2="417.8" y2="443.7"/>
<line x1="498.2" y1="435.7" x2="498.2" y2="443.7"/>
<line x1="64.3" y1="403.4" x2="72.3" y2="403.4"/>
<line x1="64.3" y1="305.7" x2="72.3" y2="305.7"/>
<line x1="64.3" y1="208.0" x2="72.3" y2="208.0"/>
<line x1="64.3" y1="110.4" x2="72.3" y2="110.4"/>
<line x1="64.3" y1="12.7" x2="72.3" y2="12.7"/>
</g>
<g font-family="'Liberation Serif', serif" font-size="23.8" fill="#000">
<text transform="translate(96.4,466) scale(0.88,1)" text-anchor="middle">0</text>
<text transform="translate(176.8,466) scale(0.88,1)" text-anchor="middle">1</text>
<text transform="translate(257.3,466) scale(0.88,1)" text-anchor="middle">2</text>
<text transform="translate(337.7,466) scale(0.88,1)" text-anchor="middle">3</text>
<text transform="translate(418.2,466) scale(0.88,1)" text-anchor="middle">4</text>
<text transform="translate(498.6,466) scale(0.88,1)" text-anchor="middle">5</text>
<text transform="translate(59.2,415.0) scale(0.925,1)" text-anchor="end">0.0</text>
<text transform="translate(59.2,317.3) scale(0.925,1)" text-anchor="end">1.5</text>
<text transform="translate(59.2,219.6) scale(0.925,1)" text-anchor="end">3.0</text>
<text transform="translate(59.2,122.0) scale(0.925,1)" text-anchor="end">4.5</text>
<text transform="translate(59.2,24.3) scale(0.925,1)" text-anchor="end">6.0</text>
</g>
<g font-family="'Liberation Serif', serif" font-size="22" font-weight="bold" fill="#000">
<text x="305.5" y="498.6" text-anchor="middle" letter-spacing="-0.5">Time(ms)</text>
<text transform="translate(23.2,226.4) rotate(-90)" text-anchor="middle" letter-spacing="0.17">Resultant force(KN)</text>
</g>
<rect x="78.2" y="18.5" width="202.2" height="58.5" fill="#fff" stroke="#000" stroke-width="1.3"/>
<line x1="81.5" y1="33.7" x2="130" y2="33.7" stroke="#4d4d4d" stroke-width="2.7"/>
<circle cx="105.7" cy="33.6" r="2.9" fill="#4d4d4d"/>
<line x1="81.5" y1="61.3" x2="130" y2="61.3" stroke="#ee3636" stroke-width="2.7"/>
<path d="M102.7 63.9L108.7 63.9L105.7 58.1Z" fill="#ee3636"/>
<g font-family="'Liberation Serif', serif" font-size="21.5" letter-spacing="0.13" fill="#000">
<text x="135.8" y="40.5">Input resultant</text>
<text x="136.2" y="69">Output resultant</text>
</g>
</svg>
</body></html>
